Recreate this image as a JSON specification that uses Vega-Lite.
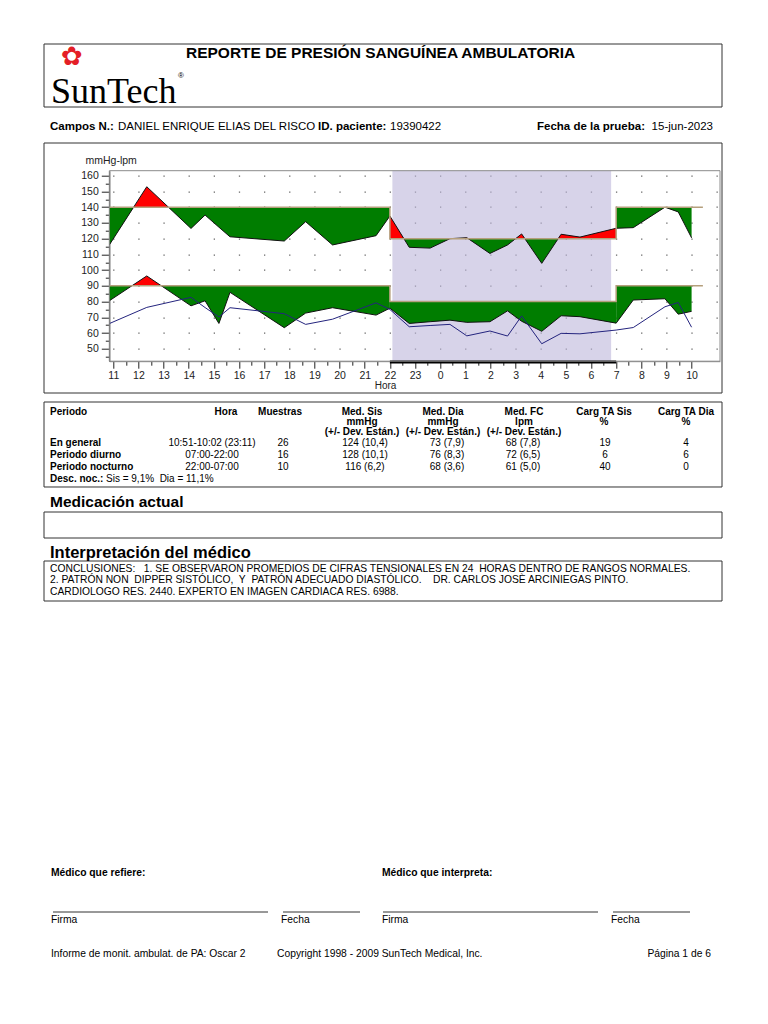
{
  "$schema": "https://vega.github.io/schema/vega-lite/v6.json",
  "width": 610.7,
  "height": 190.5,
  "padding": {"left": 109.3, "top": 170.7, "right": 48, "bottom": 662.8},
  "autosize": {"type": "none"},
  "background": "white",
  "config": {
    "view": {"stroke": null},
    "text": {"font": "Liberation Sans", "fontSize": 10, "align": "left", "baseline": "middle", "color": "#000"}
  },
  "datasets": {
    "lecturas": [
      {"hora": 10.84, "sis": 116, "dia": 80.5, "fc": 66},
      {"hora": 12.33, "sis": 153, "dia": 96.3, "fc": 76.3},
      {"hora": 14.09, "sis": 126.5, "dia": 77.3, "fc": 82.7},
      {"hora": 14.65, "sis": 135, "dia": 80.5, "fc": 76.2},
      {"hora": 15.2, "sis": 127.3, "dia": 66.1, "fc": 70.2},
      {"hora": 15.64, "sis": 121.2, "dia": 85.9, "fc": 76.1},
      {"hora": 17.8, "sis": 118.5, "dia": 63.4, "fc": 72.3},
      {"hora": 18.65, "sis": 130.8, "dia": 72.7, "fc": 65.5},
      {"hora": 19.72, "sis": 116, "dia": 76.1, "fc": 68.8},
      {"hora": 21.45, "sis": 121.9, "dia": 71.4, "fc": 79.2},
      {"hora": 22.0, "sis": 134.4, "dia": 75.8, "fc": 75},
      {"hora": 22.77, "sis": 114.5, "dia": 66.1, "fc": 64},
      {"hora": 23.6, "sis": 114, "dia": 67.2, "fc": 64.8},
      {"hora": 24.39, "sis": 120, "dia": 68.2, "fc": 65.5},
      {"hora": 25.06, "sis": 120.6, "dia": 66.8, "fc": 58.2},
      {"hora": 25.98, "sis": 110.6, "dia": 67.2, "fc": 61.3},
      {"hora": 26.68, "sis": 116, "dia": 74.1, "fc": 58.1},
      {"hora": 27.24, "sis": 123, "dia": 67.5, "fc": 70.9},
      {"hora": 28.04, "sis": 104.3, "dia": 61.1, "fc": 53.2},
      {"hora": 28.81, "sis": 122.8, "dia": 71, "fc": 59.8},
      {"hora": 29.56, "sis": 121, "dia": 70.4, "fc": 59.5},
      {"hora": 31.0, "sis": 126.6, "dia": 66.3, "fc": 61.9},
      {"hora": 31.68, "sis": 127, "dia": 81, "fc": 63.5},
      {"hora": 32.94, "sis": 140, "dia": 81.8, "fc": 76.7},
      {"hora": 33.47, "sis": 137, "dia": 72, "fc": 79.4},
      {"hora": 34.0, "sis": 120.5, "dia": 73.8, "fc": 63.7}
    ],
    "relleno": [
      {"tramo": "s1", "tipo": "bajo", "hora": 10.84, "valor": 116, "umbral": 140},
      {"tramo": "s1", "tipo": "bajo", "hora": 11.81, "valor": 140, "umbral": 140},
      {"tramo": "s2", "tipo": "sobre", "hora": 11.81, "valor": 140, "umbral": 140},
      {"tramo": "s2", "tipo": "sobre", "hora": 12.33, "valor": 153, "umbral": 140},
      {"tramo": "s2", "tipo": "sobre", "hora": 13.19, "valor": 140, "umbral": 140},
      {"tramo": "s3", "tipo": "bajo", "hora": 13.19, "valor": 140, "umbral": 140},
      {"tramo": "s3", "tipo": "bajo", "hora": 14.09, "valor": 126.5, "umbral": 140},
      {"tramo": "s3", "tipo": "bajo", "hora": 14.65, "valor": 135, "umbral": 140},
      {"tramo": "s3", "tipo": "bajo", "hora": 15.2, "valor": 127.3, "umbral": 140},
      {"tramo": "s3", "tipo": "bajo", "hora": 15.64, "valor": 121.2, "umbral": 140},
      {"tramo": "s3", "tipo": "bajo", "hora": 17.8, "valor": 118.5, "umbral": 140},
      {"tramo": "s3", "tipo": "bajo", "hora": 18.65, "valor": 130.8, "umbral": 140},
      {"tramo": "s3", "tipo": "bajo", "hora": 19.72, "valor": 116, "umbral": 140},
      {"tramo": "s3", "tipo": "bajo", "hora": 21.45, "valor": 121.9, "umbral": 140},
      {"tramo": "s3", "tipo": "bajo", "hora": 22.0, "valor": 134.4, "umbral": 140},
      {"tramo": "s4", "tipo": "sobre", "hora": 22.0, "valor": 134.4, "umbral": 120},
      {"tramo": "s4", "tipo": "sobre", "hora": 22.56, "valor": 120, "umbral": 120},
      {"tramo": "s5", "tipo": "bajo", "hora": 22.56, "valor": 120, "umbral": 120},
      {"tramo": "s5", "tipo": "bajo", "hora": 22.77, "valor": 114.5, "umbral": 120},
      {"tramo": "s5", "tipo": "bajo", "hora": 23.6, "valor": 114, "umbral": 120},
      {"tramo": "s5", "tipo": "bajo", "hora": 24.39, "valor": 120, "umbral": 120},
      {"tramo": "s6", "tipo": "sobre", "hora": 24.39, "valor": 120, "umbral": 120},
      {"tramo": "s6", "tipo": "sobre", "hora": 25.06, "valor": 120.6, "umbral": 120},
      {"tramo": "s6", "tipo": "sobre", "hora": 25.115, "valor": 120, "umbral": 120},
      {"tramo": "s7", "tipo": "bajo", "hora": 25.115, "valor": 120, "umbral": 120},
      {"tramo": "s7", "tipo": "bajo", "hora": 25.98, "valor": 110.6, "umbral": 120},
      {"tramo": "s7", "tipo": "bajo", "hora": 26.68, "valor": 116, "umbral": 120},
      {"tramo": "s7", "tipo": "bajo", "hora": 27.0, "valor": 120, "umbral": 120},
      {"tramo": "s8", "tipo": "sobre", "hora": 27.0, "valor": 120, "umbral": 120},
      {"tramo": "s8", "tipo": "sobre", "hora": 27.24, "valor": 123, "umbral": 120},
      {"tramo": "s8", "tipo": "sobre", "hora": 27.37, "valor": 120, "umbral": 120},
      {"tramo": "s9", "tipo": "bajo", "hora": 27.37, "valor": 120, "umbral": 120},
      {"tramo": "s9", "tipo": "bajo", "hora": 28.04, "valor": 104.3, "umbral": 120},
      {"tramo": "s9", "tipo": "bajo", "hora": 28.69, "valor": 120, "umbral": 120},
      {"tramo": "s10", "tipo": "sobre", "hora": 28.69, "valor": 120, "umbral": 120},
      {"tramo": "s10", "tipo": "sobre", "hora": 28.81, "valor": 122.8, "umbral": 120},
      {"tramo": "s10", "tipo": "sobre", "hora": 29.56, "valor": 121, "umbral": 120},
      {"tramo": "s10", "tipo": "sobre", "hora": 31.0, "valor": 126.6, "umbral": 120},
      {"tramo": "s11", "tipo": "bajo", "hora": 31.0, "valor": 126.6, "umbral": 140},
      {"tramo": "s11", "tipo": "bajo", "hora": 31.68, "valor": 127, "umbral": 140},
      {"tramo": "s11", "tipo": "bajo", "hora": 32.94, "valor": 140, "umbral": 140},
      {"tramo": "s11", "tipo": "bajo", "hora": 33.47, "valor": 137, "umbral": 140},
      {"tramo": "s11", "tipo": "bajo", "hora": 34.0, "valor": 120.5, "umbral": 140},
      {"tramo": "d1", "tipo": "bajo", "hora": 10.84, "valor": 80.5, "umbral": 90},
      {"tramo": "d1", "tipo": "bajo", "hora": 11.74, "valor": 90, "umbral": 90},
      {"tramo": "d2", "tipo": "sobre", "hora": 11.74, "valor": 90, "umbral": 90},
      {"tramo": "d2", "tipo": "sobre", "hora": 12.33, "valor": 96.3, "umbral": 90},
      {"tramo": "d2", "tipo": "sobre", "hora": 12.91, "valor": 90, "umbral": 90},
      {"tramo": "d3", "tipo": "bajo", "hora": 12.91, "valor": 90, "umbral": 90},
      {"tramo": "d3", "tipo": "bajo", "hora": 14.09, "valor": 77.3, "umbral": 90},
      {"tramo": "d3", "tipo": "bajo", "hora": 14.65, "valor": 80.5, "umbral": 90},
      {"tramo": "d3", "tipo": "bajo", "hora": 15.2, "valor": 66.1, "umbral": 90},
      {"tramo": "d3", "tipo": "bajo", "hora": 15.64, "valor": 85.9, "umbral": 90},
      {"tramo": "d3", "tipo": "bajo", "hora": 17.8, "valor": 63.4, "umbral": 90},
      {"tramo": "d3", "tipo": "bajo", "hora": 18.65, "valor": 72.7, "umbral": 90},
      {"tramo": "d3", "tipo": "bajo", "hora": 19.72, "valor": 76.1, "umbral": 90},
      {"tramo": "d3", "tipo": "bajo", "hora": 21.45, "valor": 71.4, "umbral": 90},
      {"tramo": "d3", "tipo": "bajo", "hora": 22.0, "valor": 75.8, "umbral": 90},
      {"tramo": "d4", "tipo": "bajo", "hora": 22.0, "valor": 75.8, "umbral": 80},
      {"tramo": "d4", "tipo": "bajo", "hora": 22.77, "valor": 66.1, "umbral": 80},
      {"tramo": "d4", "tipo": "bajo", "hora": 23.6, "valor": 67.2, "umbral": 80},
      {"tramo": "d4", "tipo": "bajo", "hora": 24.39, "valor": 68.2, "umbral": 80},
      {"tramo": "d4", "tipo": "bajo", "hora": 25.06, "valor": 66.8, "umbral": 80},
      {"tramo": "d4", "tipo": "bajo", "hora": 25.98, "valor": 67.2, "umbral": 80},
      {"tramo": "d4", "tipo": "bajo", "hora": 26.68, "valor": 74.1, "umbral": 80},
      {"tramo": "d4", "tipo": "bajo", "hora": 27.24, "valor": 67.5, "umbral": 80},
      {"tramo": "d4", "tipo": "bajo", "hora": 28.04, "valor": 61.1, "umbral": 80},
      {"tramo": "d4", "tipo": "bajo", "hora": 28.81, "valor": 71, "umbral": 80},
      {"tramo": "d4", "tipo": "bajo", "hora": 29.56, "valor": 70.4, "umbral": 80},
      {"tramo": "d4", "tipo": "bajo", "hora": 31.0, "valor": 66.3, "umbral": 80},
      {"tramo": "d5", "tipo": "bajo", "hora": 31.0, "valor": 66.3, "umbral": 90},
      {"tramo": "d5", "tipo": "bajo", "hora": 31.68, "valor": 81, "umbral": 90},
      {"tramo": "d5", "tipo": "bajo", "hora": 32.94, "valor": 81.8, "umbral": 90},
      {"tramo": "d5", "tipo": "bajo", "hora": 33.47, "valor": 72, "umbral": 90},
      {"tramo": "d5", "tipo": "bajo", "hora": 34.0, "valor": 73.8, "umbral": 90}
    ],
    "limites": [
      {"serie": "sis", "hora": 10.84, "limite": 140},
      {"serie": "sis", "hora": 22.0, "limite": 140},
      {"serie": "sis", "hora": 22.0, "limite": 120},
      {"serie": "sis", "hora": 31.0, "limite": 120},
      {"serie": "sis", "hora": 31.0, "limite": 140},
      {"serie": "sis", "hora": 34.45, "limite": 140},
      {"serie": "dia", "hora": 10.84, "limite": 90},
      {"serie": "dia", "hora": 22.0, "limite": 90},
      {"serie": "dia", "hora": 22.0, "limite": 80},
      {"serie": "dia", "hora": 31.0, "limite": 80},
      {"serie": "dia", "hora": 31.0, "limite": 90},
      {"serie": "dia", "hora": 34.45, "limite": 90}
    ],
    "tabla": [
      {"periodo": "En general", "hora": "10:51-10:02 (23:11)", "muestras": "26", "sis": "124 (10,4)", "dia": "73 (7,9)", "fc": "68 (7,8)", "cargSis": "19", "cargDia": "4"},
      {"periodo": "Periodo diurno", "hora": "07:00-22:00", "muestras": "16", "sis": "128 (10,1)", "dia": "76 (8,3)", "fc": "72 (6,5)", "cargSis": "6", "cargDia": "6"},
      {"periodo": "Periodo nocturno", "hora": "22:00-07:00", "muestras": "10", "sis": "116 (6,2)", "dia": "68 (3,6)", "fc": "61 (5,0)", "cargSis": "40", "cargDia": "0"}
    ]
  },
  "layer": [
    {
      "data": {"values": [{}]},
      "layer": [
        {"mark": {"type": "rect", "fillOpacity": 0, "stroke": "#333", "strokeWidth": 1}, "encoding": {"x": {"datum": 44, "type": "quantitative", "scale": {"domain": [0, 768], "range": [-109.3, 658.7], "nice": false, "zero": false}, "axis": null}, "x2": {"datum": 722}, "y": {"datum": 44, "type": "quantitative", "scale": {"domain": [0, 1024], "range": [-170.7, 853.3], "nice": false, "zero": false}, "axis": null}, "y2": {"datum": 107}}},
        {"mark": {"type": "rect", "fillOpacity": 0, "stroke": "#333", "strokeWidth": 1}, "encoding": {"x": {"datum": 44, "type": "quantitative", "axis": null}, "x2": {"datum": 722}, "y": {"datum": 143, "type": "quantitative", "axis": null}, "y2": {"datum": 393}}},
        {"mark": {"type": "rect", "fillOpacity": 0, "stroke": "#333", "strokeWidth": 1}, "encoding": {"x": {"datum": 44, "type": "quantitative", "axis": null}, "x2": {"datum": 722}, "y": {"datum": 402, "type": "quantitative", "axis": null}, "y2": {"datum": 487}}},
        {"mark": {"type": "rect", "fillOpacity": 0, "stroke": "#333", "strokeWidth": 1}, "encoding": {"x": {"datum": 44, "type": "quantitative", "axis": null}, "x2": {"datum": 722}, "y": {"datum": 512, "type": "quantitative", "axis": null}, "y2": {"datum": 538}}},
        {"mark": {"type": "rect", "fillOpacity": 0, "stroke": "#333", "strokeWidth": 1}, "encoding": {"x": {"datum": 44, "type": "quantitative", "axis": null}, "x2": {"datum": 722}, "y": {"datum": 561, "type": "quantitative", "axis": null}, "y2": {"datum": 601}}},
        {"mark": {"type": "rule", "color": "#333", "strokeWidth": 1}, "encoding": {"x": {"datum": 53, "type": "quantitative", "axis": null}, "x2": {"datum": 268}, "y": {"datum": 912, "type": "quantitative", "axis": null}}},
        {"mark": {"type": "rule", "color": "#333", "strokeWidth": 1}, "encoding": {"x": {"datum": 283, "type": "quantitative", "axis": null}, "x2": {"datum": 360}, "y": {"datum": 912, "type": "quantitative", "axis": null}}},
        {"mark": {"type": "rule", "color": "#333", "strokeWidth": 1}, "encoding": {"x": {"datum": 383, "type": "quantitative", "axis": null}, "x2": {"datum": 598}, "y": {"datum": 912, "type": "quantitative", "axis": null}}},
        {"mark": {"type": "rule", "color": "#333", "strokeWidth": 1}, "encoding": {"x": {"datum": 613, "type": "quantitative", "axis": null}, "x2": {"datum": 690}, "y": {"datum": 912, "type": "quantitative", "axis": null}}},
        {"mark": {"type": "text", "text": "REPORTE DE PRESIÓN SANGUÍNEA AMBULATORIA", "fontWeight": "bold", "fontSize": 15.5}, "encoding": {"x": {"datum": 186, "type": "quantitative", "axis": null}, "y": {"datum": 53, "type": "quantitative", "axis": null}}},
        {"mark": {"type": "text", "text": "✿", "font": "DejaVu Sans", "fontSize": 26, "align": "center", "color": "#e41e26"}, "encoding": {"x": {"datum": 72, "type": "quantitative", "axis": null}, "y": {"datum": 57, "type": "quantitative", "axis": null}}},
        {"mark": {"type": "text", "text": "SunTech", "font": "Liberation Serif", "fontSize": 36, "baseline": "alphabetic"}, "encoding": {"x": {"datum": 51, "type": "quantitative", "axis": null}, "y": {"datum": 103, "type": "quantitative", "axis": null}}},
        {"mark": {"type": "text", "text": "®", "fontSize": 8}, "encoding": {"x": {"datum": 178, "type": "quantitative", "axis": null}, "y": {"datum": 76, "type": "quantitative", "axis": null}}},
        {"mark": {"type": "text", "text": "Campos N.:", "fontWeight": "bold", "fontSize": 11.5}, "encoding": {"x": {"datum": 50, "type": "quantitative", "axis": null}, "y": {"datum": 127, "type": "quantitative", "axis": null}}},
        {"mark": {"type": "text", "text": "DANIEL ENRIQUE ELIAS DEL RISCO", "fontSize": 11.5}, "encoding": {"x": {"datum": 118, "type": "quantitative", "axis": null}, "y": {"datum": 127, "type": "quantitative", "axis": null}}},
        {"mark": {"type": "text", "text": "ID. paciente:", "fontWeight": "bold", "fontSize": 11.5}, "encoding": {"x": {"datum": 318, "type": "quantitative", "axis": null}, "y": {"datum": 127, "type": "quantitative", "axis": null}}},
        {"mark": {"type": "text", "text": "19390422", "fontSize": 11.5}, "encoding": {"x": {"datum": 390, "type": "quantitative", "axis": null}, "y": {"datum": 127, "type": "quantitative", "axis": null}}},
        {"mark": {"type": "text", "text": "Fecha de la prueba:", "fontWeight": "bold", "fontSize": 11.5}, "encoding": {"x": {"datum": 537, "type": "quantitative", "axis": null}, "y": {"datum": 127, "type": "quantitative", "axis": null}}},
        {"mark": {"type": "text", "text": "15-jun-2023", "fontSize": 11.5, "align": "right"}, "encoding": {"x": {"datum": 713, "type": "quantitative", "axis": null}, "y": {"datum": 127, "type": "quantitative", "axis": null}}},
        {"mark": {"type": "text", "text": "Periodo", "fontWeight": "bold", "baseline": "alphabetic"}, "encoding": {"x": {"datum": 50, "type": "quantitative", "axis": null}, "y": {"datum": 414.5, "type": "quantitative", "axis": null}}},
        {"mark": {"type": "text", "text": "Hora", "fontWeight": "bold", "align": "center", "baseline": "alphabetic"}, "encoding": {"x": {"datum": 226, "type": "quantitative", "axis": null}, "y": {"datum": 414.5, "type": "quantitative", "axis": null}}},
        {"mark": {"type": "text", "text": "Muestras", "fontWeight": "bold", "align": "center", "baseline": "alphabetic"}, "encoding": {"x": {"datum": 280, "type": "quantitative", "axis": null}, "y": {"datum": 414.5, "type": "quantitative", "axis": null}}},
        {"mark": {"type": "text", "text": ["Med. Sis", "mmHg", "(+/- Dev. Están.)"], "fontWeight": "bold", "align": "center", "baseline": "alphabetic", "lineHeight": 10}, "encoding": {"x": {"datum": 362, "type": "quantitative", "axis": null}, "y": {"datum": 414.5, "type": "quantitative", "axis": null}}},
        {"mark": {"type": "text", "text": ["Med. Dia", "mmHg", "(+/- Dev. Están.)"], "fontWeight": "bold", "align": "center", "baseline": "alphabetic", "lineHeight": 10}, "encoding": {"x": {"datum": 443, "type": "quantitative", "axis": null}, "y": {"datum": 414.5, "type": "quantitative", "axis": null}}},
        {"mark": {"type": "text", "text": ["Med. FC", "lpm", "(+/- Dev. Están.)"], "fontWeight": "bold", "align": "center", "baseline": "alphabetic", "lineHeight": 10}, "encoding": {"x": {"datum": 524, "type": "quantitative", "axis": null}, "y": {"datum": 414.5, "type": "quantitative", "axis": null}}},
        {"mark": {"type": "text", "text": ["Carg TA Sis", "%"], "fontWeight": "bold", "align": "center", "baseline": "alphabetic", "lineHeight": 10}, "encoding": {"x": {"datum": 604, "type": "quantitative", "axis": null}, "y": {"datum": 414.5, "type": "quantitative", "axis": null}}},
        {"mark": {"type": "text", "text": ["Carg TA Dia", "%"], "fontWeight": "bold", "align": "center", "baseline": "alphabetic", "lineHeight": 10}, "encoding": {"x": {"datum": 686, "type": "quantitative", "axis": null}, "y": {"datum": 414.5, "type": "quantitative", "axis": null}}},
        {"mark": {"type": "text", "text": "Desc. noc.:", "fontWeight": "bold"}, "encoding": {"x": {"datum": 50, "type": "quantitative", "axis": null}, "y": {"datum": 479, "type": "quantitative", "axis": null}}},
        {"mark": {"type": "text", "text": "Sis = 9,1%\u00a0 Dia = 11,1%"}, "encoding": {"x": {"datum": 106, "type": "quantitative", "axis": null}, "y": {"datum": 479, "type": "quantitative", "axis": null}}},
        {"mark": {"type": "text", "text": "Medicación actual", "fontWeight": "bold", "fontSize": 15.5}, "encoding": {"x": {"datum": 50, "type": "quantitative", "axis": null}, "y": {"datum": 502, "type": "quantitative", "axis": null}}},
        {"mark": {"type": "text", "text": "Interpretación del médico", "fontWeight": "bold", "fontSize": 16.5}, "encoding": {"x": {"datum": 50, "type": "quantitative", "axis": null}, "y": {"datum": 553, "type": "quantitative", "axis": null}}},
        {"mark": {"type": "text", "text": ["CONCLUSIONES:\u00a0\u00a0 1. SE OBSERVARON PROMEDIOS DE CIFRAS TENSIONALES EN 24\u00a0 HORAS DENTRO DE RANGOS NORMALES.", "2. PATRÓN NON\u00a0 DIPPER SISTÓLICO,\u00a0 Y\u00a0 PATRÓN ADECUADO DIASTÓLICO.\u00a0\u00a0\u00a0 DR. CARLOS JOSÈ ARCINIEGAS PINTO.", "CARDIOLOGO RES. 2440. EXPERTO EN IMAGEN CARDIACA RES. 6988."], "fontSize": 10.3, "baseline": "alphabetic", "lineHeight": 11.5}, "encoding": {"x": {"datum": 50, "type": "quantitative", "axis": null}, "y": {"datum": 571.5, "type": "quantitative", "axis": null}}},
        {"mark": {"type": "text", "text": "Médico que refiere:", "fontWeight": "bold", "fontSize": 10.3}, "encoding": {"x": {"datum": 51, "type": "quantitative", "axis": null}, "y": {"datum": 873, "type": "quantitative", "axis": null}}},
        {"mark": {"type": "text", "text": "Médico que interpreta:", "fontWeight": "bold", "fontSize": 10.3}, "encoding": {"x": {"datum": 382, "type": "quantitative", "axis": null}, "y": {"datum": 873, "type": "quantitative", "axis": null}}},
        {"mark": {"type": "text", "text": "Firma", "fontSize": 10.3}, "encoding": {"x": {"datum": 51, "type": "quantitative", "axis": null}, "y": {"datum": 920, "type": "quantitative", "axis": null}}},
        {"mark": {"type": "text", "text": "Fecha", "fontSize": 10.3}, "encoding": {"x": {"datum": 281, "type": "quantitative", "axis": null}, "y": {"datum": 920, "type": "quantitative", "axis": null}}},
        {"mark": {"type": "text", "text": "Firma", "fontSize": 10.3}, "encoding": {"x": {"datum": 382, "type": "quantitative", "axis": null}, "y": {"datum": 920, "type": "quantitative", "axis": null}}},
        {"mark": {"type": "text", "text": "Fecha", "fontSize": 10.3}, "encoding": {"x": {"datum": 611, "type": "quantitative", "axis": null}, "y": {"datum": 920, "type": "quantitative", "axis": null}}},
        {"mark": {"type": "text", "text": "Informe de monit. ambulat. de PA: Oscar 2", "fontSize": 10.3}, "encoding": {"x": {"datum": 51, "type": "quantitative", "axis": null}, "y": {"datum": 954, "type": "quantitative", "axis": null}}},
        {"mark": {"type": "text", "text": "Copyright 1998 - 2009 SunTech Medical, Inc.", "fontSize": 10.3}, "encoding": {"x": {"datum": 277, "type": "quantitative", "axis": null}, "y": {"datum": 954, "type": "quantitative", "axis": null}}},
        {"mark": {"type": "text", "text": "Página 1 de 6", "fontSize": 10.3, "align": "right"}, "encoding": {"x": {"datum": 711, "type": "quantitative", "axis": null}, "y": {"datum": 954, "type": "quantitative", "axis": null}}}
      ]
    },
    {
      "data": {"name": "tabla"},
      "encoding": {
        "y": {"field": "periodo", "type": "nominal", "scale": {"type": "point", "domain": ["En general", "Periodo diurno", "Periodo nocturno"], "range": [272.3, 296.3], "padding": 0}, "axis": null}
      },
      "layer": [
        {"mark": {"type": "text", "fontWeight": "bold"}, "encoding": {"text": {"field": "periodo"}, "x": {"datum": 50, "type": "quantitative", "scale": {"domain": [0, 768], "range": [-109.3, 658.7], "nice": false, "zero": false}, "axis": null}}},
        {"mark": {"type": "text", "align": "center"}, "encoding": {"text": {"field": "hora"}, "x": {"datum": 212, "type": "quantitative", "axis": null}}},
        {"mark": {"type": "text", "align": "center"}, "encoding": {"text": {"field": "muestras"}, "x": {"datum": 283, "type": "quantitative", "axis": null}}},
        {"mark": {"type": "text", "align": "center"}, "encoding": {"text": {"field": "sis"}, "x": {"datum": 365, "type": "quantitative", "axis": null}}},
        {"mark": {"type": "text", "align": "center"}, "encoding": {"text": {"field": "dia"}, "x": {"datum": 447, "type": "quantitative", "axis": null}}},
        {"mark": {"type": "text", "align": "center"}, "encoding": {"text": {"field": "fc"}, "x": {"datum": 523, "type": "quantitative", "axis": null}}},
        {"mark": {"type": "text", "align": "center"}, "encoding": {"text": {"field": "cargSis"}, "x": {"datum": 605, "type": "quantitative", "axis": null}}},
        {"mark": {"type": "text", "align": "center"}, "encoding": {"text": {"field": "cargDia"}, "x": {"datum": 686, "type": "quantitative", "axis": null}}}
      ]
    },
    {
      "data": {"values": [{"inicio": 22.1, "fin": 30.8}]},
      "mark": {"type": "rect", "fill": "#bdb6db", "opacity": 0.6},
      "encoding": {
        "x": {"field": "inicio", "type": "quantitative", "scale": {"domain": [10.84, 35.13], "nice": false, "zero": false}, "axis": null},
        "x2": {"field": "fin"},
        "y": {"datum": 42.1, "type": "quantitative", "scale": {"domain": [42.1, 163.2], "nice": false, "zero": false}, "axis": null},
        "y2": {"datum": 163.2}
      }
    },
    {
      "data": {"name": "relleno"},
      "mark": {"type": "area", "opacity": 1, "interpolate": "linear"},
      "encoding": {
        "x": {"field": "hora", "type": "quantitative", "scale": {"domain": [10.84, 35.13], "nice": false, "zero": false}, "axis": null},
        "y": {"field": "valor", "type": "quantitative", "stack": null, "scale": {"domain": [42.1, 163.2], "nice": false, "zero": false}, "axis": null},
        "y2": {"field": "umbral"},
        "color": {"field": "tipo", "type": "nominal", "scale": {"domain": ["sobre", "bajo"], "range": ["#ff0000", "#007d00"]}, "legend": null},
        "detail": {"field": "tramo"}
      }
    },
    {
      "data": {"name": "lecturas"},
      "mark": {"type": "line", "color": "#111", "strokeWidth": 1},
      "encoding": {
        "x": {
          "field": "hora", "type": "quantitative",
          "scale": {"domain": [10.84, 35.13], "nice": false, "zero": false},
          "axis": {
            "orient": "bottom",
            "values": [11, 11.5, 12, 12.5, 13, 13.5, 14, 14.5, 15, 15.5, 16, 16.5, 17, 17.5, 18, 18.5, 19, 19.5, 20, 20.5, 21, 21.5, 22, 22.5, 23, 23.5, 24, 24.5, 25, 25.5, 26, 26.5, 27, 27.5, 28, 28.5, 29, 29.5, 30, 30.5, 31, 31.5, 32, 32.5, 33, 33.5, 34],
            "labelExpr": "datum.value % 1 === 0 ? '' + (datum.value % 24) : ''",
            "labelFont": "Liberation Sans", "labelFontSize": 10.5, "labelColor": "#222", "labelPadding": 2,
            "labelFlush": false, "labelOverlap": false,
            "domainColor": "#888", "tickColor": "#222",
            "tickSize": {"condition": {"test": "datum.value % 1 === 0", "value": 7}, "value": 4},
            "grid": false,
            "title": "Hora", "titleX": 275.7, "titleY": 24, "titleAlign": "center", "titleBaseline": "middle",
            "titleFont": "Liberation Sans", "titleFontSize": 10, "titleFontWeight": "normal", "titleColor": "#222"
          }
        },
        "y": {
          "field": "sis", "type": "quantitative",
          "scale": {"domain": [42.1, 163.2], "nice": false, "zero": false},
          "axis": {
            "orient": "left",
            "values": [45, 50, 55, 60, 65, 70, 75, 80, 85, 90, 95, 100, 105, 110, 115, 120, 125, 130, 135, 140, 145, 150, 155, 160],
            "labelExpr": "datum.value % 10 === 0 ? datum.label : ''",
            "labelFont": "Liberation Sans", "labelFontSize": 10.5, "labelColor": "#222", "labelPadding": 3,
            "labelFlush": false, "labelOverlap": false,
            "domainColor": "#222", "tickColor": "#222",
            "tickSize": {"condition": {"test": "datum.value % 10 === 0", "value": 8}, "value": 4},
            "grid": true, "gridColor": "#666", "gridWidth": 1.3, "gridDash": [1.3, 23.84], "gridDashOffset": 21.8,
            "gridOpacity": {"condition": {"test": "datum.value % 10 === 0 && datum.value >= 50", "value": 1}, "value": 0},
            "title": "mmHg-lpm", "titleAngle": 0, "titleX": -24.3, "titleY": -10.7, "titleAlign": "left", "titleBaseline": "middle",
            "titleFont": "Liberation Sans", "titleFontSize": 10.5, "titleFontWeight": "normal", "titleColor": "#222"
          }
        }
      }
    },
    {
      "data": {"name": "lecturas"},
      "mark": {"type": "line", "color": "#111", "strokeWidth": 1},
      "encoding": {
        "x": {"field": "hora", "type": "quantitative", "scale": {"domain": [10.84, 35.13], "nice": false, "zero": false}, "axis": null},
        "y": {"field": "dia", "type": "quantitative", "scale": {"domain": [42.1, 163.2], "nice": false, "zero": false}, "axis": null}
      }
    },
    {
      "data": {"name": "limites"},
      "mark": {"type": "line", "color": "#b59f7c", "strokeWidth": 1.5},
      "encoding": {
        "x": {"field": "hora", "type": "quantitative", "scale": {"domain": [10.84, 35.13], "nice": false, "zero": false}, "axis": null},
        "y": {"field": "limite", "type": "quantitative", "scale": {"domain": [42.1, 163.2], "nice": false, "zero": false}, "axis": null},
        "detail": {"field": "serie"}
      }
    },
    {
      "data": {"name": "lecturas"},
      "mark": {"type": "line", "color": "#24247e", "strokeWidth": 1},
      "encoding": {
        "x": {"field": "hora", "type": "quantitative", "scale": {"domain": [10.84, 35.13], "nice": false, "zero": false}, "axis": null},
        "y": {"field": "fc", "type": "quantitative", "scale": {"domain": [42.1, 163.2], "nice": false, "zero": false}, "axis": null}
      }
    },
    {
      "data": {"values": [{"inicio": 22, "fin": 31}]},
      "mark": {"type": "rule", "color": "#000", "strokeWidth": 3},
      "encoding": {
        "x": {"field": "inicio", "type": "quantitative", "scale": {"domain": [10.84, 35.13], "nice": false, "zero": false}, "axis": null},
        "x2": {"field": "fin"},
        "y": {"datum": 41.6, "type": "quantitative", "scale": {"domain": [42.1, 163.2], "nice": false, "zero": false}, "axis": null}
      }
    },
    {
      "data": {"values": [{}]},
      "mark": {"type": "rect", "fillOpacity": 0, "stroke": "#8c8c8c", "strokeWidth": 1},
      "encoding": {
        "x": {"datum": 10.84, "type": "quantitative", "scale": {"domain": [10.84, 35.13], "nice": false, "zero": false}, "axis": null},
        "x2": {"datum": 35.13},
        "y": {"datum": 42.1, "type": "quantitative", "scale": {"domain": [42.1, 163.2], "nice": false, "zero": false}, "axis": null},
        "y2": {"datum": 163.2}
      }
    }
  ],
  "resolve": {"scale": {"x": "independent", "y": "independent", "color": "independent"}}
}
